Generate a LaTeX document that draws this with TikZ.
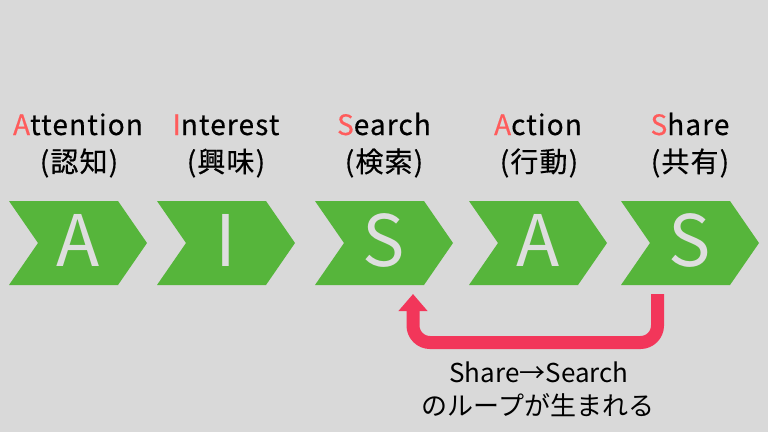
\documentclass[tikz,border=0pt]{standalone}
\usepackage{fontspec}
\setmainfont{Noto Sans CJK JP}
\newfontfamily\lblfont{Noto Sans CJK JP}[LetterSpace=4,FakeBold=0.4]
\usepackage{tikz}
\usetikzlibrary{arrows.meta}
\usepackage{xcolor}
\definecolor{bggray}{HTML}{D9D9D9}
\definecolor{chevgreen}{HTML}{56B53B}
\definecolor{lettergray}{HTML}{DEDEDE}
\definecolor{initred}{HTML}{FF5C5C}
\definecolor{looppink}{HTML}{F2365A}
\tikzstyle{chev}=[fill=chevgreen]
\tikzstyle{bigletter}=[anchor=base,inner sep=0pt,text=lettergray,font=\fontsize{71}{80}\selectfont]
\tikzstyle{stagelbl}=[anchor=base,inner sep=0pt,font=\lblfont\fontsize{28}{32}\selectfont]
\tikzstyle{looplbl}=[anchor=base,inner sep=0pt,font=\fontsize{26}{30}\selectfont]
\tikzstyle{looparrow}=[draw=looppink,line width=13pt,rounded corners=17pt,-{Triangle[width=28pt,length=17pt]}]

\begin{document}
\begin{tikzpicture}[x=1pt,y=-1pt]

  \useasboundingbox (0,0) rectangle (768,432);
  \fill[bggray] (0,0) rectangle (768,432);

  % chevrons
  \fill[chev] (9,201) -- ++(109,0) -- ++(29,42) -- ++(-29,42) -- ++(-109,0) -- ++(29,-42) -- cycle;
  \fill[chev] (157,201) -- ++(109,0) -- ++(29,42) -- ++(-29,42) -- ++(-109,0) -- ++(29,-42) -- cycle;
  \fill[chev] (315,201) -- ++(109,0) -- ++(29,42) -- ++(-29,42) -- ++(-109,0) -- ++(29,-42) -- cycle;
  \fill[chev] (469,201) -- ++(109,0) -- ++(29,42) -- ++(-29,42) -- ++(-109,0) -- ++(29,-42) -- cycle;
  \fill[chev] (621,201) -- ++(109,0) -- ++(29,42) -- ++(-29,42) -- ++(-109,0) -- ++(29,-42) -- cycle;

  \node[bigletter] (a1) at (78,266) {A};
  \node[bigletter] (i) at (226,266) {I};
  \node[bigletter] (s1) at (384,266) {S};
  \node[bigletter] (a2) at (538,266) {A};
  \node[bigletter] (s2) at (690,266) {S};

  \node[stagelbl] (attention) at (78,135) {{\color{initred}A}ttention};
  \node[stagelbl] (interest) at (226,135) {{\color{initred}I}nterest};
  \node[stagelbl] (search) at (384,135) {{\color{initred}S}earch};
  \node[stagelbl] (action) at (538,135) {{\color{initred}A}ction};
  \node[stagelbl] (share) at (690,135) {{\color{initred}S}hare};

  \node[stagelbl] (ninchi) at (79,172) {(認知)};
  \node[stagelbl] (kyomi) at (226,172) {(興味)};
  \node[stagelbl] (kensaku) at (384,172) {(検索)};
  \node[stagelbl] (kodo) at (539,172) {(行動)};
  \node[stagelbl] (kyoyu) at (690,172) {(共有)};

  % loop
  \coordinate (sharebase) at (657.5,294);
  \coordinate (loopbottom) at (535,342.5);
  \coordinate (searchbase) at (413,294);
  \draw[looparrow] (sharebase) |- (loopbottom) -| (searchbase);

  \node[looplbl] (loop1) at (539,382) {Share→Search};
  \node[looplbl] (loop2) at (538,415) {のループが生まれる};

\end{tikzpicture}
\end{document}
